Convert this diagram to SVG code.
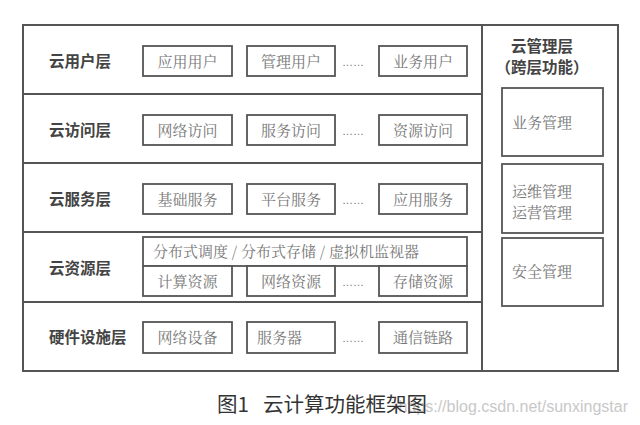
<svg xmlns="http://www.w3.org/2000/svg" width="640" height="425" viewBox="0 0 640 425">
<style>
.frame{fill:none;stroke:#555;stroke-width:2}
.box{fill:#fff;stroke:#555;stroke-width:1.8}
.lay{font-family:"Noto Sans CJK SC","Liberation Sans",sans-serif;font-size:15.5px;font-weight:bold;fill:#444}
.t{font-family:"Noto Serif CJK SC","Noto Sans CJK SC",serif;font-size:15px;fill:#777;text-anchor:middle}
.tl{font-family:"Noto Serif CJK SC","Noto Sans CJK SC",serif;font-size:15px;fill:#777}
.dots{font-family:"Liberation Sans",sans-serif;font-size:11px;fill:#777}
.cap{font-family:"Noto Sans CJK SC","Liberation Sans",sans-serif;font-size:20.5px;fill:#333}
</style>
<rect width="640" height="425" fill="#fff"/>
<g id="frame">
<rect class="frame" x="23" y="25" width="595" height="346"/>
<line class="frame" x1="482" y1="25" x2="482" y2="371"/>
<line class="frame" x1="23" y1="94" x2="482" y2="94"/>
<line class="frame" x1="23" y1="163" x2="482" y2="163"/>
<line class="frame" x1="23" y1="232" x2="482" y2="232"/>
<line class="frame" x1="23" y1="302" x2="482" y2="302"/>
</g>
<g id="row-user">
<text class="lay" x="49" y="67">云用户层</text>
<rect class="box" x="143" y="46" width="89" height="30"/><text class="t" x="187.5" y="66.5">应用用户</text>
<rect class="box" x="247" y="46" width="88" height="30"/><text class="t" x="291" y="66.5">管理用户</text>
<text class="dots" x="342" y="66">……</text>
<rect class="box" x="379" y="46" width="88" height="30"/><text class="t" x="423" y="66.5">业务用户</text>
</g>
<g id="row-access">
<text class="lay" x="49" y="136">云访问层</text>
<rect class="box" x="143" y="115" width="89" height="30"/><text class="t" x="187.5" y="135.5">网络访问</text>
<rect class="box" x="247" y="115" width="88" height="30"/><text class="t" x="291" y="135.5">服务访问</text>
<text class="dots" x="342" y="135">……</text>
<rect class="box" x="379" y="115" width="88" height="30"/><text class="t" x="423" y="135.5">资源访问</text>
</g>
<g id="row-service">
<text class="lay" x="49" y="205">云服务层</text>
<rect class="box" x="143" y="184" width="89" height="30"/><text class="t" x="187.5" y="204.5">基础服务</text>
<rect class="box" x="247" y="184" width="88" height="30"/><text class="t" x="291" y="204.5">平台服务</text>
<text class="dots" x="342" y="204">……</text>
<rect class="box" x="379" y="184" width="88" height="30"/><text class="t" x="423" y="204.5">应用服务</text>
</g>
<g id="row-resource">
<text class="lay" x="49" y="274">云资源层</text>
<rect class="box" x="143" y="237" width="324" height="29"/><text class="tl" x="153" y="257">分布式调度 / 分布式存储 / 虚拟机监视器</text>
<rect class="box" x="143" y="266" width="89" height="30"/><text class="t" x="187.5" y="286.5">计算资源</text>
<rect class="box" x="247" y="266" width="88" height="30"/><text class="t" x="291" y="286.5">网络资源</text>
<text class="dots" x="342" y="286">……</text>
<rect class="box" x="379" y="266" width="88" height="30"/><text class="t" x="423" y="286.5">存储资源</text>
</g>
<g id="row-hardware">
<text class="lay" x="49" y="343">硬件设施层</text>
<rect class="box" x="143" y="322" width="89" height="31"/><text class="t" x="187.5" y="343">网络设备</text>
<rect class="box" x="247" y="322" width="88" height="31"/><text class="tl" x="257" y="343">服务器</text>
<text class="dots" x="342" y="342">……</text>
<rect class="box" x="379" y="322" width="88" height="31"/><text class="t" x="423" y="343">通信链路</text>
</g>
<g id="mgmt">
<text class="lay" x="542" y="52" text-anchor="middle">云管理层</text>
<text class="lay" x="542" y="73" text-anchor="middle">（跨层功能）</text>
<rect class="box" x="502" y="88" width="101" height="68"/><text class="tl" x="512" y="128">业务管理</text>
<rect class="box" x="502" y="164" width="101" height="69"/><text class="tl" x="512" y="197">运维管理</text><text class="tl" x="512" y="218">运营管理</text>
<rect class="box" x="502" y="238" width="101" height="68"/><text class="tl" x="512" y="277">安全管理</text>
</g>
<g id="caption">
<text x="628" y="412" text-anchor="end" font-family="Liberation Sans, sans-serif" font-size="16" fill="#c8c8c8">https://blog.csdn.net/sunxingstar</text>
<text class="cap" x="217" y="412">图1</text>
<text class="cap" x="263" y="412">云计算功能框架图</text>
</g>
</svg>
